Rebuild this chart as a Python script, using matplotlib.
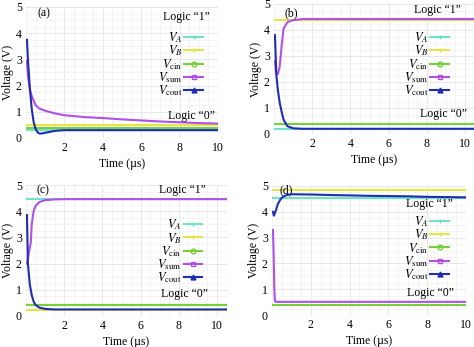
import numpy as np
import matplotlib
matplotlib.use("Agg")
import matplotlib.pyplot as plt

plt.rcParams["font.family"] = ["Liberation Serif", "DejaVu Serif"]
plt.rcParams["mathtext.fontset"] = "stix"

# series names / colours
names = [r"$V_A$", r"$V_B$", r"$V_{\rm cin}$", r"$V_{\rm sum}$", r"$V_{\rm cout}$"]
colors = ["#6fe3c8", "#e4e648", "#78cf3a", "#b050e6", "#1f2db0"]
markers = ["+", "+", "o", "s", "^"]

# ---- panel (a)
a_const = {"VA": 0.30, "VB": 0.49, "Vcin": 0.39}
a_t_sum = [0.05, 0.1, 0.2, 0.3, 0.5, 0.7, 1.0, 1.5, 2, 3, 4, 5, 6, 7, 8, 9, 10]
a_sum = [2.95, 2.4, 1.85, 1.6, 1.25, 1.12, 1.04, 0.94, 0.87, 0.80, 0.76, 0.71, 0.67, 0.63, 0.60, 0.57, 0.55]
a_t_cout = [0.05, 0.1, 0.2, 0.3, 0.4, 0.5, 0.6, 0.7, 0.8, 1.0, 1.5, 2, 4, 6, 8, 10]
a_cout = [3.75, 3.0, 1.9, 1.1, 0.6, 0.35, 0.22, 0.17, 0.17, 0.2, 0.27, 0.3, 0.3, 0.3, 0.3, 0.3]

# ---- panel (b)
b_const = {"VA": 0.20, "VB": 4.40, "Vcin": 0.37}
b_t_sum = [0.05, 0.1, 0.2, 0.3, 0.4, 0.5, 0.7, 1.0, 1.5, 2, 4, 6, 8, 10.5]
b_sum = [2.8, 2.4, 2.3, 2.6, 3.4, 4.05, 4.3, 4.38, 4.42, 4.42, 4.42, 4.42, 4.42, 4.42]
b_t_cout = [0.05, 0.12, 0.2, 0.3, 0.4, 0.5, 0.7, 1.0, 1.5, 4, 8, 10.5]
b_cout = [3.8, 2.3, 1.7, 1.2, 0.85, 0.55, 0.3, 0.22, 0.2, 0.2, 0.2, 0.2]

# ---- panel (c)
c_const = {"VA": 4.46, "VB": 0.24, "Vcin": 0.43}
c_t_sum = [0.05, 0.1, 0.15, 0.25, 0.3, 0.4, 0.5, 0.7, 1.0, 1.5, 2, 4, 6, 8, 10.5]
c_sum = [2.0, 2.2, 2.4, 2.8, 3.5, 4.0, 4.2, 4.35, 4.42, 4.45, 4.46, 4.46, 4.46, 4.46, 4.46]
c_t_cout = [0.05, 0.1, 0.2, 0.3, 0.4, 0.5, 0.7, 1.0, 1.5, 4, 8, 10.5]
c_cout = [3.85, 2.0, 1.2, 0.8, 0.55, 0.42, 0.32, 0.27, 0.25, 0.25, 0.25, 0.25]

# ---- panel (d)
d_const = {"VA": 4.52, "VB": 4.84, "Vcin": 0.39}
d_t_sum = [0.05, 0.08, 0.12, 0.15, 0.2, 2, 5, 8, 10]
d_sum = [3.3, 2.5, 1.0, 0.55, 0.51, 0.51, 0.51, 0.51, 0.51]
d_t_cout = [0.05, 0.1, 0.2, 0.3, 0.45, 0.6, 0.8, 1.0, 2, 3, 5, 7, 8, 10]
d_cout = [4.0, 3.85, 4.05, 4.3, 4.5, 4.6, 4.66, 4.68, 4.67, 4.65, 4.62, 4.6, 4.58, 4.56]

panels = [
    ("(a)", a_const, a_t_sum, a_sum, a_t_cout, a_cout, 10.0),
    ("(b)", b_const, b_t_sum, b_sum, b_t_cout, b_cout, 10.5),
    ("(c)", c_const, c_t_sum, c_sum, c_t_cout, c_cout, 10.5),
    ("(d)", d_const, d_t_sum, d_sum, d_t_cout, d_cout, 10.0),
]

# pixel boxes: left (x=0), x=10 position, top (V=5), bottom (V=0)
boxes = [(26, 218, 7, 138), (274, 465, 4, 134), (26, 217, 185, 316), (272, 466, 186, 315)]
text_pos = [
    # label xy, logic1 xy, logic0 xy, legend anchor
    ((0.6, 4.75), (9.6, 4.6), (9.85, 0.85), (0.955, 0.87)),
    ((0.55, 4.65), (9.8, 4.75), (10.1, 0.75), (0.905, 0.845)),
    ((0.55, 4.8), (9.4, 4.8), (9.55, 0.85), (0.91, 0.80)),
    ((0.4, 4.85), (9.3, 4.3), (9.4, 0.85), (0.945, 0.83)),
]

W, H = 474, 347
fig = plt.figure(figsize=(W / 100, H / 100), dpi=100)

for (lab, const, ts, vs, tc, vc, xmax), (l, r10, top, bot), (lp, l1, l0, lg) in zip(panels, boxes, text_pos):
    right = l + (r10 - l) * xmax / 10
    ax = fig.add_axes([l / W, 1 - bot / H, (right - l) / W, (bot - top) / H])
    ax.set_xlim(0, xmax)
    ax.set_ylim(0, 5)
    for s in ax.spines.values():
        s.set_visible(False)
    ax.set_xticks([2, 4, 6, 8, 10])
    ax.set_yticks([0, 1, 2, 3, 4, 5])
    ax.set_xticks(np.arange(0, xmax + 0.01, 0.5), minor=True)
    ax.set_yticks(np.arange(0, 5.01, 0.25), minor=True)
    ax.grid(which="major", color="#e4e4e4", lw=0.6)
    ax.grid(which="minor", color="#f1f1f1", lw=0.5)
    ax.tick_params(which="both", length=0, labelsize=8.5, pad=3)
    ax.set_xlabel("Time (\u00b5s)", fontsize=8.5, labelpad=3)
    ax.set_ylabel("Voltage (V)", fontsize=8.5, labelpad=1)

    tfull = [0, xmax]
    keys = ["VA", "VB", "Vcin"]
    for i, k in enumerate(keys):
        ax.plot(tfull, [const[k]] * 2, color=colors[i], lw=1.5, label=names[i],
                marker=markers[i], ms=3.5, mfc=colors[i] if i < 2 else "none",
                markevery=[], zorder=2)
    ax.plot(ts, vs, color=colors[3], lw=1.5, label=names[3], marker=markers[3],
            ms=3.5, mfc="none", markevery=[], zorder=3)
    ax.plot(tc, vc, color=colors[4], lw=1.5, label=names[4], marker=markers[4],
            ms=3.5, markevery=[], zorder=4)

    ax.text(lp[0], lp[1], lab, fontsize=8.5, va="center", ha="left")
    ax.text(l1[0], l1[1], "Logic \u201c1\u201d", fontsize=8.5, va="center", ha="right")
    ax.text(l0[0], l0[1], "Logic \u201c0\u201d", fontsize=8.5, va="center", ha="right")

    leg = ax.legend(loc="upper right", bbox_to_anchor=lg, frameon=False,
                    markerfirst=False, fontsize=9, handlelength=1.5, numpoints=1,
                    handletextpad=0.15, labelspacing=-0.12, borderpad=0)
    for h in leg.legend_handles:
        h.set_markevery([1])

fig.savefig("out.png", dpi=100)
